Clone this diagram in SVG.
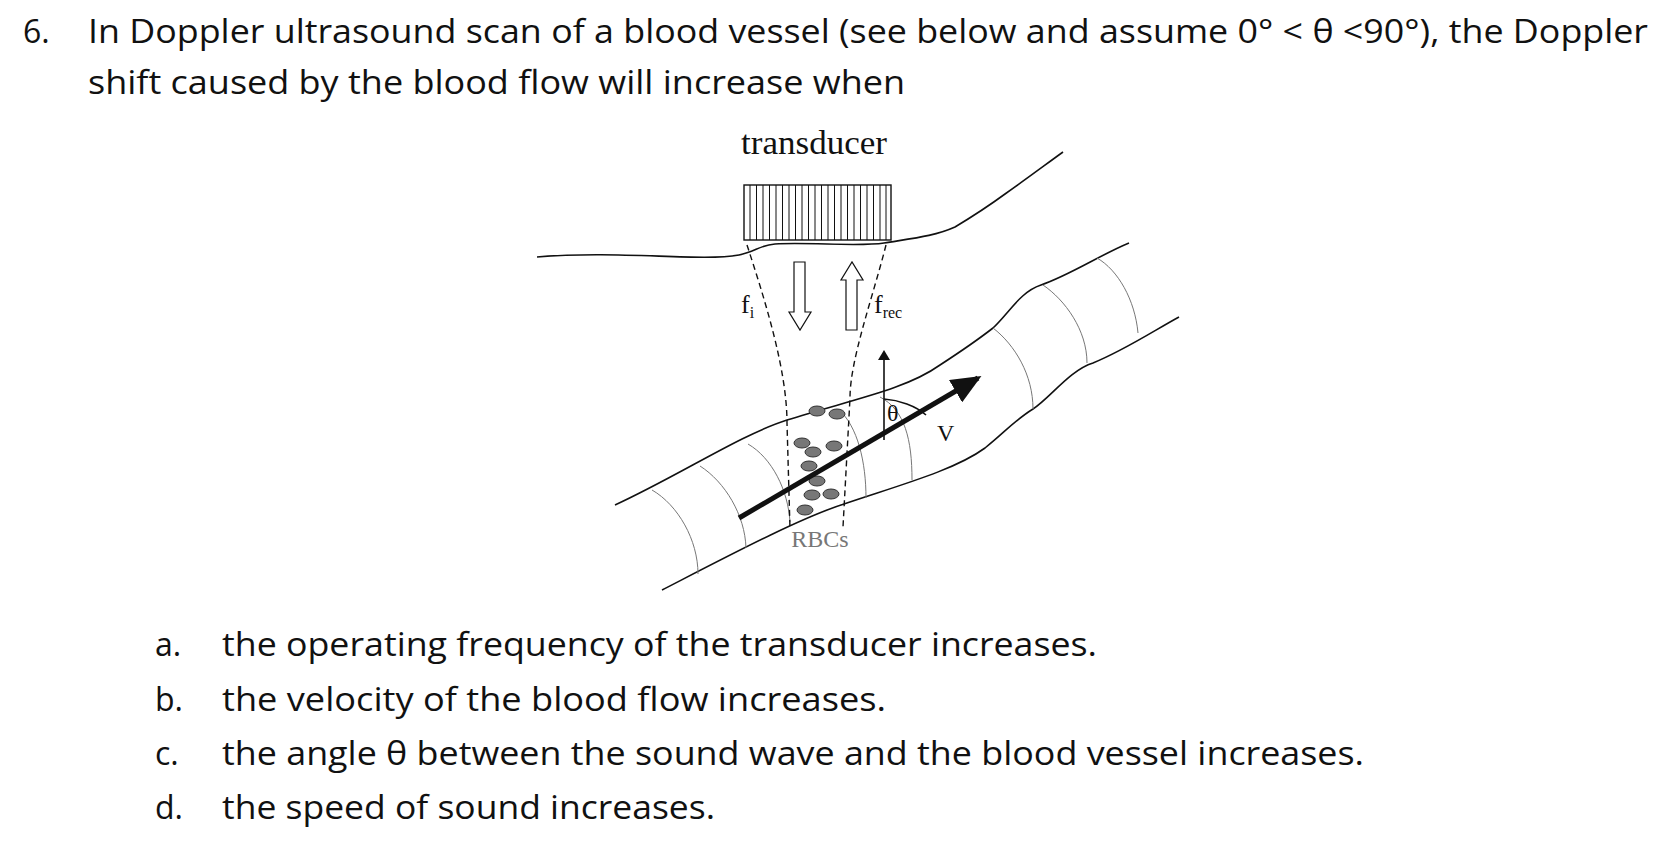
<svg xmlns="http://www.w3.org/2000/svg" width="1665" height="849" viewBox="0 0 1665 849">
<style>
.q{font-family:"Open Sans","Liberation Sans",sans-serif;font-size:32px;fill:#111}
.s{font-family:"Liberation Serif",serif;fill:#111}
.ln{fill:none;stroke:#111;stroke-width:1.6}
.ring{fill:none;stroke:#777;stroke-width:1}
.dash{fill:none;stroke:#111;stroke-width:1.4;stroke-dasharray:6 4}
.rbc{fill:#777;stroke:#333;stroke-width:1}
</style>
<defs>
<marker id="ah" markerWidth="10" markerHeight="12" refX="8" refY="6" orient="auto" markerUnits="userSpaceOnUse"><path d="M0,0 L10,6 L0,12 z" fill="#111"/></marker>
<marker id="ahb" markerWidth="30" markerHeight="26" refX="26" refY="13" orient="auto" markerUnits="userSpaceOnUse"><path d="M0,0 L30,13 L0,26 z" fill="#111"/></marker>
</defs>
<rect width="1665" height="849" fill="#fff"/>
<g id="question">
<text class="q" x="23" y="43">6.</text>
<text class="q" x="88" y="43" textLength="1560" lengthAdjust="spacingAndGlyphs">In Doppler ultrasound scan of a blood vessel (see below and assume 0° &lt; θ &lt;90°), the Doppler</text>
<text class="q" x="88" y="94" textLength="817" lengthAdjust="spacingAndGlyphs">shift caused by the blood flow will increase when</text>
</g>
<g id="options">
<text class="q" x="155" y="656">a.</text><text class="q" x="222" y="656" textLength="875" lengthAdjust="spacingAndGlyphs">the operating frequency of the transducer increases.</text>
<text class="q" x="155" y="711">b.</text><text class="q" x="222" y="711" textLength="664" lengthAdjust="spacingAndGlyphs">the velocity of the blood flow increases.</text>
<text class="q" x="155" y="765">c.</text><text class="q" x="222" y="765" textLength="1142" lengthAdjust="spacingAndGlyphs">the angle θ between the sound wave and the blood vessel increases.</text>
<text class="q" x="155" y="819">d.</text><text class="q" x="222" y="819" textLength="493" lengthAdjust="spacingAndGlyphs">the speed of sound increases.</text>
</g>
<g id="skin"><path class="ln" d="M537,257 C620,250 700,262 739,255 C755,252 760,245 775,244 C810,242 860,247 884,243 C915,238 935,236 955,227 C975,215 990,205 1005,194 C1025,180 1045,165 1063,152"/></g>
<g id="transducer">
<text class="s" x="814" y="154" font-size="33" text-anchor="middle" textLength="146" lengthAdjust="spacingAndGlyphs">transducer</text>
<rect x="744" y="185" width="147" height="55" fill="#fff" stroke="#111" stroke-width="1.4"/>
<path stroke="#111" stroke-width="1" d="M750,185v55M756.5,185v55M763,185v55M769.5,185v55M776,185v55M782.5,185v55M789,185v55M795.5,185v55M802,185v55M808.5,185v55M815,185v55M821.5,185v55M828,185v55M834.5,185v55M841,185v55M847.5,185v55M854,185v55M860.5,185v55M867,185v55M873.5,185v55M880,185v55M886,185v55"/>
</g>
<g id="vessel">
<path class="ln" d="M615,505 C680,475 740,435 787,420 C850,400 905,390 940,365 C960,352 975,342 993,328 C1010,312 1020,292 1041,285 C1070,275 1100,255 1129,243"/>
<path class="ln" d="M662,590 C730,555 800,518 844,504 C900,485 955,470 985,448 C1005,432 1015,420 1033,409 C1050,398 1070,370 1093,363 C1125,350 1155,330 1179,317"/>
<path class="ring" d="M652,490 C678,505 698,540 698,574"/>
<path class="ring" d="M700,466 C725,482 745,515 746,548"/>
<path class="ring" d="M748,444 C772,458 788,490 790,522"/>
<path class="ring" d="M838,409 C858,426 866,463 866,498"/>
<path class="ring" d="M880,397 C905,410 912,440 912,480"/>
<path class="ring" d="M993,328 C1015,345 1033,375 1033,409"/>
<path class="ring" d="M1043,285 C1065,300 1087,330 1087,363"/>
<path class="ring" d="M1097,258 C1118,270 1135,300 1138,333"/>
</g>
<g id="beam">
<path class="dash" d="M747,245 C765,300 787,370 787,423 L790,529"/>
<path class="dash" d="M886,245 C872,300 850,360 850,398 L843,527"/>
<path d="M794,262h11v50h6l-11,18l-11,-18h5z" fill="#fff" stroke="#111" stroke-width="1.2"/>
<path d="M846,330h11v-50h6l-11,-18l-11,18h5z" fill="#fff" stroke="#111" stroke-width="1.2"/>
<text class="s" x="741" y="313" font-size="26">f<tspan font-size="16" dy="5">i</tspan></text>
<text class="s" x="874" y="313" font-size="26">f<tspan font-size="16" dy="5">rec</tspan></text>
</g>
<g id="rbcs">
<ellipse class="rbc" cx="817" cy="411" rx="8" ry="5"/><ellipse class="rbc" cx="837" cy="414" rx="8" ry="5"/>
<ellipse class="rbc" cx="802" cy="443" rx="8" ry="5"/><ellipse class="rbc" cx="834" cy="446" rx="8" ry="5"/>
<ellipse class="rbc" cx="813" cy="452" rx="8" ry="5"/><ellipse class="rbc" cx="809" cy="466" rx="8" ry="5"/>
<ellipse class="rbc" cx="817" cy="481" rx="8" ry="5"/><ellipse class="rbc" cx="812" cy="495" rx="8" ry="5"/>
<ellipse class="rbc" cx="831" cy="494" rx="8" ry="5"/><ellipse class="rbc" cx="805" cy="510" rx="8" ry="5"/>
<text class="s" x="820" y="547" font-size="24" style="fill:#777" text-anchor="middle">RBCs</text>
</g>
<g id="connectors">
<line x1="884" y1="440" x2="884" y2="352" stroke="#111" stroke-width="1.6" marker-end="url(#ah)"/>
<line x1="739" y1="518" x2="978" y2="378" stroke="#111" stroke-width="5" marker-end="url(#ahb)"/>
<path class="ln" d="M884,399 C899,400 916,406 926,415" stroke-width="1.2"/>
</g>
<text class="s" x="887" y="421" font-size="24">θ</text>
<text class="s" x="937" y="441" font-size="24">V</text>
</svg>
